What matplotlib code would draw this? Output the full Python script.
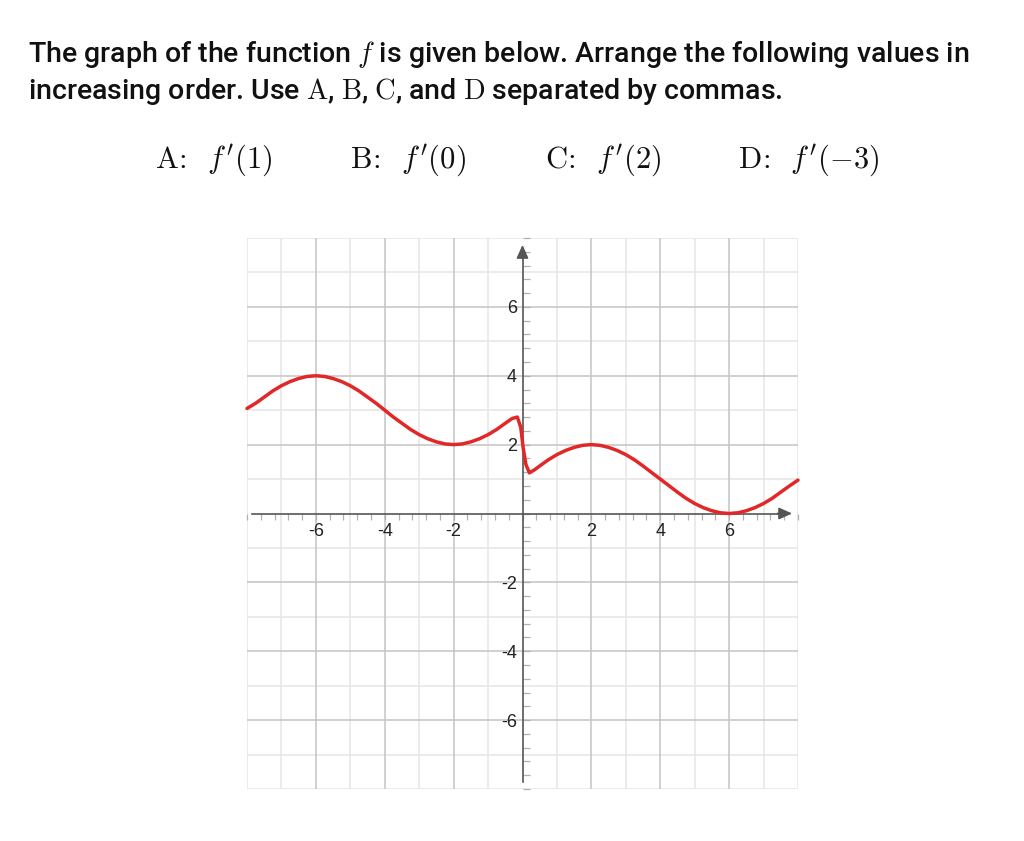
import matplotlib.pyplot as plt
from matplotlib.ticker import MultipleLocator

plt.rcParams['mathtext.fontset'] = 'cm'

# curve points
X_VALUES = [-8, -7.75, -7.5, -7.25, -7, -6.75, -6.5, -6.25, -6, -5.75, -5.5, -5.25, -5,
            -4.75, -4.5, -4.25, -4, -3.75, -3.5, -3.25, -3, -2.75, -2.5, -2.25, -2, -1.75,
            -1.5, -1.25, -1, -0.75, -0.5, -0.3, -0.15, -0.05, 0.02, 0.1, 0.2, 0.35, 0.5,
            0.75, 1, 1.25, 1.5, 1.75, 2, 2.25, 2.5, 2.75, 3, 3.25, 3.5, 3.75, 4, 4.25, 4.5,
            4.75, 5, 5.25, 5.5, 5.75, 6, 6.25, 6.5, 6.75, 7, 7.25, 7.5, 7.75, 8]
Y_VALUES = [3.05, 3.2, 3.38, 3.56, 3.71, 3.83, 3.92, 3.98, 4.0, 3.98, 3.92, 3.83, 3.71,
            3.56, 3.38, 3.2, 3.0, 2.8, 2.62, 2.44, 2.29, 2.17, 2.08, 2.02, 2.0, 2.02,
            2.08, 2.17, 2.29, 2.44, 2.62, 2.76, 2.8, 2.5, 1.9, 1.42, 1.18, 1.27, 1.38,
            1.56, 1.71, 1.83, 1.92, 1.98, 2.0, 1.98, 1.92, 1.83, 1.71, 1.56, 1.38, 1.19, 1.0,
            0.81, 0.62, 0.44, 0.29, 0.17, 0.08, 0.02, 0.0, 0.02, 0.08, 0.17, 0.29, 0.44,
            0.62, 0.8, 0.97]

TICKS = [-6, -4, -2, 2, 4, 6]
TICK_LABELS = ['-6', '-4', '-2', '2', '4', '6']

QUESTION_1 = r'The graph of the function $f$ is given below. Arrange the following values in'
QUESTION_2 = r'increasing order. Use $\mathrm{A}$, $\mathrm{B}$, $\mathrm{C}$, and $\mathrm{D}$ separated by commas.'
OPTIONS = [r'$\mathrm{A}\!:\;\; f^{\prime}(1)$', r'$\mathrm{B}\!:\;\; f^{\prime}(0)$',
           r'$\mathrm{C}\!:\;\; f^{\prime}(2)$', r'$\mathrm{D}\!:\;\; f^{\prime}(-3)$']
OPTION_X = [155, 350, 545, 738]

W, H = 1024, 841
fig = plt.figure(figsize=(W / 100, H / 100), dpi=100)

fig.text(28 / W, 1 - 62 / H, QUESTION_1, family='Roboto', fontweight=500, fontsize=20.5,
         va='baseline', color='#111111')
fig.text(28 / W, 1 - 99 / H, QUESTION_2, family='Roboto', fontweight=500, fontsize=20.5,
         va='baseline', color='#111111')
for xp, s in zip(OPTION_X, OPTIONS):
    fig.text(xp / W, 1 - 168 / H, s, fontsize=22, va='baseline', color='#111111')

ax = fig.add_axes([247 / W, 1 - 789 / H, 551 / W, 551 / H])
ax.set_xlim(-8, 8)
ax.set_ylim(-8, 8)

# grid
for v in range(-8, 9):
    if v == 0:
        continue
    c = '#c4c4c4' if (v % 2 == 0 and abs(v) < 8) else '#e6e6e6'
    z = 0.6 if c == '#c4c4c4' else 0.5
    ax.axvline(v, color=c, lw=1.1, zorder=z)
    ax.axhline(v, color=c, lw=1.1, zorder=z)

for s in ['top', 'right']:
    ax.spines[s].set_visible(False)
ax.spines['bottom'].set_position('zero')
ax.spines['left'].set_position('zero')
ax.spines['bottom'].set_bounds(-7.85, 7.5)
ax.spines['left'].set_bounds(-7.8, 7.5)
for s in ['bottom', 'left']:
    ax.spines[s].set_color('#555555')
    ax.spines[s].set_linewidth(1.2)
    ax.spines[s].set_zorder(2)

ax.set_xticks(TICKS)
ax.set_xticklabels(TICK_LABELS)
ax.set_yticks(TICKS)
ax.set_yticklabels(TICK_LABELS)
ax.xaxis.set_minor_locator(MultipleLocator(0.4))
ax.yaxis.set_minor_locator(MultipleLocator(0.4))
ax.tick_params(axis='x', which='both', direction='out', length=4.5, width=0.9,
               color='#b0b0b0', pad=2)
ax.tick_params(axis='y', which='both', direction='in', length=5, width=0.9,
               color='#b0b0b0', pad=4)
ax.tick_params(which='major', labelsize=13, labelcolor='#222222')
for lab in ax.get_xticklabels() + ax.get_yticklabels():
    lab.set_family('Liberation Sans')

arrow = dict(arrowstyle='-|>,head_length=0.8,head_width=0.36', color='#555555',
             lw=1.2, shrinkA=0, shrinkB=0, mutation_scale=10)
ax.annotate('', xy=(7.83, 0), xytext=(7.4, 0), arrowprops=arrow, zorder=3)
ax.annotate('', xy=(0, 7.8), xytext=(0, 7.4), arrowprops=arrow, zorder=3)

ax.plot(X_VALUES, Y_VALUES, color='#e12727', lw=2.5, solid_capstyle='round',
        solid_joinstyle='round', zorder=4, clip_on=False)

fig.savefig('out.png', dpi=100)
